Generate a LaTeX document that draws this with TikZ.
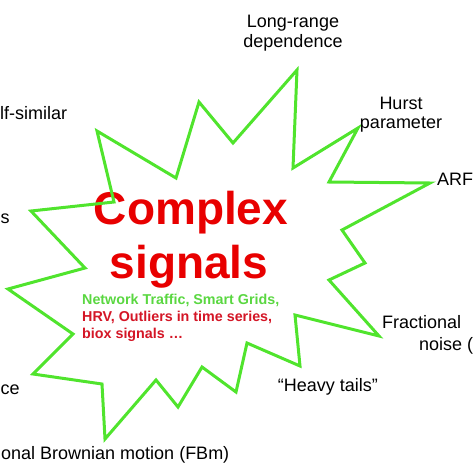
\documentclass[tikz,border=0pt]{standalone}
\usepackage{fontspec}
\setmainfont{Liberation Sans}
\definecolor{stargreen}{RGB}{80,228,45}
\definecolor{textgreen}{RGB}{90,215,65}
\definecolor{bigred}{RGB}{232,0,0}
\definecolor{darkred}{RGB}{212,22,38}
\tikzset{
  starline/.style={draw=stargreen, line width=3pt, line join=miter},
  lbl/.style={inner sep=0pt, text=black, font=\fontsize{18}{20}\selectfont},
  bigt/.style={inner sep=0pt, text=bigred, font=\bfseries\fontsize{46}{52}\selectfont},
  smallt/.style={inner sep=0pt, font=\bfseries\fontsize{14.3}{17.5}\selectfont, anchor=base west},
}
\begin{document}
\begin{tikzpicture}[x=1pt,y=-1pt]
\useasboundingbox (0,0) rectangle (474,474);
\clip (0,0) rectangle (474,474);
% central text
\node[bigt, anchor=base] (c1) at (191,224) {Complex};
\node[bigt, anchor=base] (c2) at (189,278) {signals};
\node[smallt, text=textgreen] (s1) at (82,304) {Network Traffic, Smart Grids,};
\node[smallt, text=darkred] (s2) at (82,321) {HRV, Outliers in time series,};
\node[smallt, text=darkred] (s3) at (82,338) {biox signals …};
% star outline
\draw[starline] (430,183) -- (342,230) -- (365,263) -- (329,280) -- (379,336)
  -- (295,315) -- (300,366) -- (247,343) -- (236,392) -- (202,367) -- (178,407)
  -- (156,380) -- (105,439) -- (102,384) -- (33,374) -- (73,334) -- (8,289)
  -- (85,268) -- (31,211) -- (114,202) -- (97,131) -- (176,178) -- (199,102)
  -- (233,143) -- (297,70) -- (293,168) -- (358,128) -- (329,182) -- cycle;
% labels
\node[lbl, anchor=base] (lr1) at (293,27) {Long-range};
\node[lbl, anchor=base] (lr2) at (293,47) {dependence};
\node[lbl, anchor=base] (h1) at (401,109) {Hurst};
\node[lbl, anchor=base] (h2) at (401,128) {parameter};
\node[lbl, anchor=base west] (arf) at (437,185) {ARF};
\node[lbl, anchor=base west] (fr1) at (382,328) {Fractional};
\node[lbl, anchor=base west] (fr2) at (419,350) {noise (};
\node[lbl, anchor=base] (ht) at (328,391) {“Heavy tails”};
\node[lbl, anchor=base west] (ss) at (0,119) {lf-similar};
\node[lbl, anchor=base west] (fs) at (0.5,223) {s};
\node[lbl, anchor=base west] (lm) at (0.5,394) {ce};
\node[lbl, anchor=base west] (fbm) at (1,459) {onal Brownian motion (FBm)};
\end{tikzpicture}
\end{document}
